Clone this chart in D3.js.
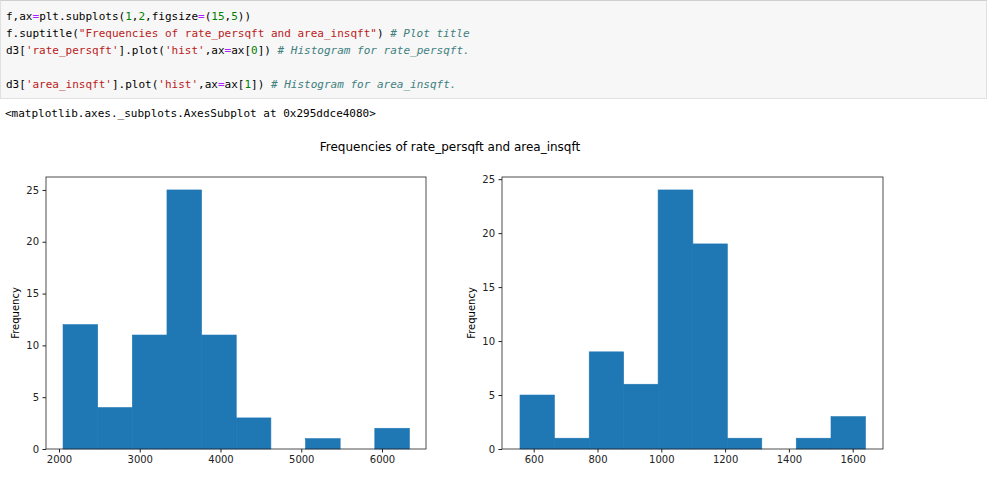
<!DOCTYPE html>
<html><head><meta charset="utf-8">
<script src="https://cdn.jsdelivr.net/npm/d3@7"></script>
<style>
body{margin:0;background:#fff;width:987px;height:480px;overflow:hidden;position:relative}
#cell{position:absolute;left:0;top:0;width:985px;height:97px;background:#f7f7f7;border:1px solid #e0e0e0;border-top-color:#cfcfcf}
pre{margin:0;font-family:"DejaVu Sans Mono",monospace;font-size:11px;line-height:17px;color:#000}
#cell pre{position:absolute;left:5px;top:7px}
#out{position:absolute;left:5px;top:105px}
.s{color:#BA2121}.c{color:#408080;font-style:italic}.n{color:#008000}.o{color:#AA22FF}
svg{position:absolute;left:0;top:0}
</style></head><body>
<div id="cell"><pre>f,ax<span class="o">=</span>plt.subplots(<span class="n">1</span>,<span class="n">2</span>,figsize<span class="o">=</span>(<span class="n">15</span>,<span class="n">5</span>))
f.suptitle(<span class="s">"Frequencies of rate_persqft and area_insqft"</span>) <span class="c"># Plot title</span>
d3[<span class="s">'rate_persqft'</span>].plot(<span class="s">'hist'</span>,ax<span class="o">=</span>ax[<span class="n">0</span>]) <span class="c"># Histogram for rate_persqft.</span>

d3[<span class="s">'area_insqft'</span>].plot(<span class="s">'hist'</span>,ax<span class="o">=</span>ax[<span class="n">1</span>]) <span class="c"># Histogram for area_insqft.</span></pre></div>
<pre id="out">&lt;matplotlib.axes._subplots.AxesSubplot at 0x295ddce4080&gt;</pre>
<svg id="chart" width="987" height="480"></svg>
<script>
// rate_persqft histogram
var rateEdges = [2050, 2479, 2908, 3337, 3766, 4195, 4624, 5053, 5482, 5911, 6340];
var rateCounts = [12, 4, 11, 25, 11, 3, 0, 1, 0, 2];
var rateTicks = [2000, 3000, 4000, 5000, 6000];
// area_insqft histogram
var areaEdges = [557, 665, 774, 882, 990, 1099, 1207, 1315, 1423, 1532, 1640];
var areaCounts = [5, 1, 9, 6, 24, 19, 1, 0, 1, 3];
var areaTicks = [600, 800, 1000, 1200, 1400, 1600];
var yTicks = [0, 5, 10, 15, 20, 25];

var svg = d3.select("#chart");
var font = "'DejaVu Sans', sans-serif";

svg.append("text").attr("x", 450).attr("y", 151).attr("text-anchor", "middle")
  .style("font-family", font).style("font-size", "12px").text("Frequencies of rate_persqft and area_insqft");

function hist(edges, counts, xTicks, box, xDom, yMax) {
  var x = d3.scaleLinear().domain(xDom).range([box.l, box.r]);
  var y = d3.scaleLinear().domain([0, yMax]).range([box.b, box.t]);
  var g = svg.append("g");
  g.selectAll("rect").data(counts).enter().append("rect")
    .attr("x", (d, i) => x(edges[i]))
    .attr("width", (d, i) => x(edges[i + 1]) - x(edges[i]))
    .attr("y", d => y(d)).attr("height", d => box.b - y(d))
    .attr("fill", "#1f77b4").attr("stroke", "#1f77b4").attr("stroke-width", 0.6);
  var xa = g.append("g").attr("transform", "translate(0," + box.b + ")")
    .call(d3.axisBottom(x).tickValues(xTicks).tickSize(3.5).tickPadding(3.5).tickFormat(d3.format("d")));
  var ya = g.append("g").attr("transform", "translate(" + box.l + ",0)")
    .call(d3.axisLeft(y).tickValues(yTicks).tickSize(3.5).tickPadding(3.5));
  [xa, ya].forEach(a => {
    a.select(".domain").remove();
    a.selectAll("text").style("font-family", font).style("font-size", "10px").attr("fill", "#222");
    a.selectAll("line").attr("stroke", "#222");
  });
  g.append("rect").attr("x", box.l).attr("y", box.t).attr("width", box.r - box.l).attr("height", box.b - box.t)
    .attr("fill", "none").attr("stroke", "#222").attr("stroke-width", 0.8);
  g.append("text").attr("transform", "translate(" + (box.l - 27) + "," + ((box.t + box.b) / 2) + ") rotate(-90)")
    .attr("text-anchor", "middle").style("font-family", font).style("font-size", "10px").text("Frequency");
}

hist(rateEdges, rateCounts, rateTicks, {l: 46, r: 426, t: 177, b: 449}, [1839, 6545], 26.25);
hist(areaEdges, areaCounts, areaTicks, {l: 502, r: 883, t: 177, b: 449}, [500.6, 1695], 25.2);
</script>
</body></html>
